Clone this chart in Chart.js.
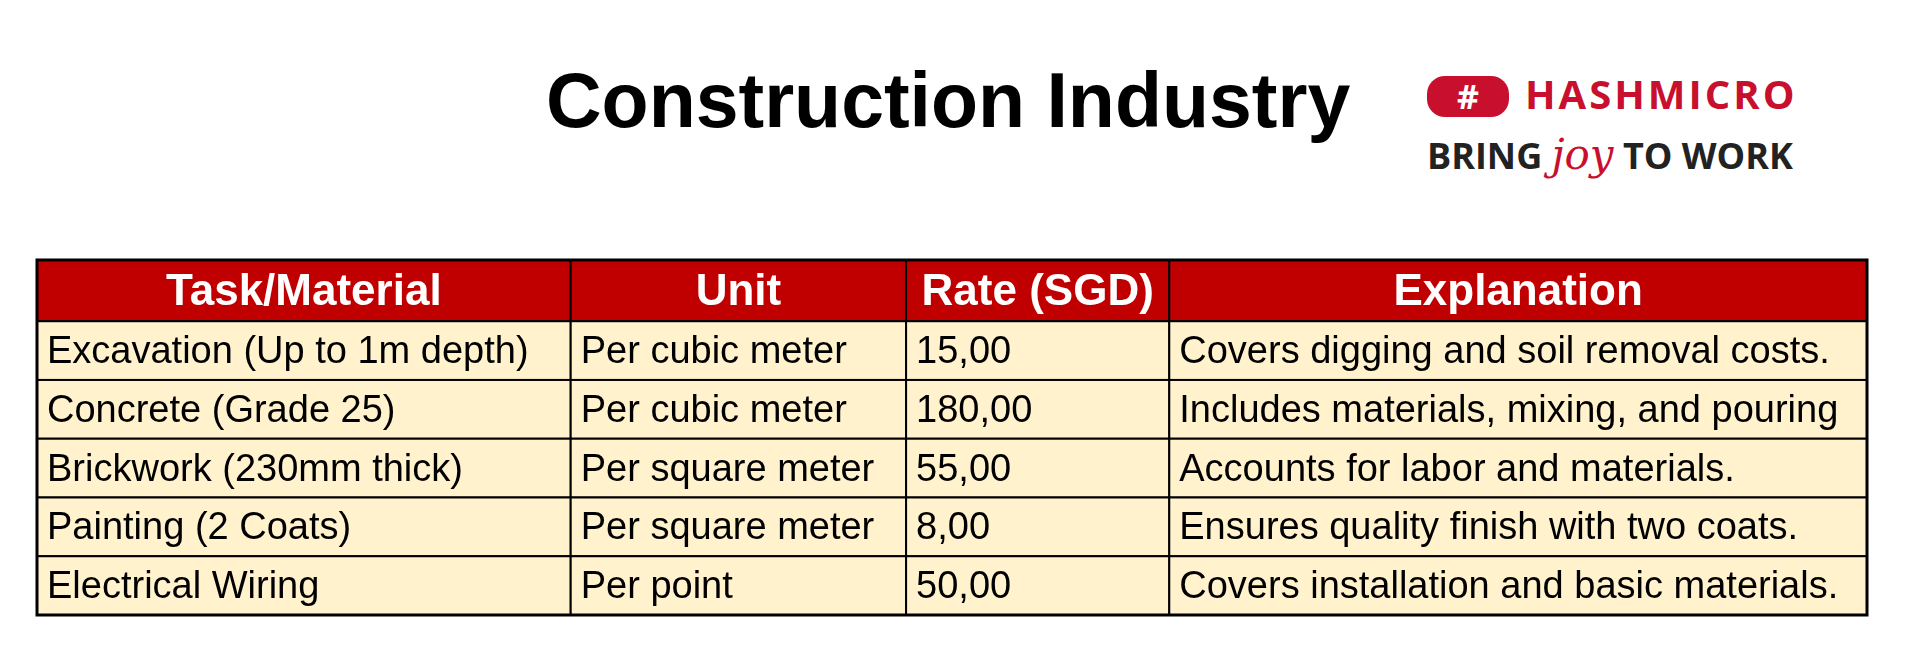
<!DOCTYPE html>
<html><head><meta charset="utf-8">
<script src="https://cdn.jsdelivr.net/npm/chart.js@4"></script>
<style>
body{margin:0;width:1920px;height:648px;background:#fff;position:relative;overflow:hidden;font-family:"Liberation Sans",Arial,sans-serif}
#title{position:absolute;left:546px;top:56px;font-size:77px;font-weight:bold;color:#000;white-space:nowrap;line-height:1.15}
#logo1{position:absolute;left:1427px;top:70px;font-size:40px;font-weight:bold;color:#c8102e;font-family:"Open Sans",sans-serif;letter-spacing:3px;line-height:1.2;white-space:nowrap}
#logo1 span{display:inline-block;background:#c8102e;color:#fff;border-radius:18px;width:82px;text-align:center;font-size:34px;margin-right:16px;letter-spacing:0}
#logo2{position:absolute;left:1427px;top:130px;font-size:36px;font-weight:bold;color:#222;font-family:"Open Sans",sans-serif;white-space:nowrap;line-height:1.2}
#logo2 i{color:#c8102e;font-family:"DejaVu Serif",serif;font-size:42px;font-weight:normal}
canvas{position:absolute;left:0;top:0}
</style></head><body>
<div id="title">Construction Industry</div>
<div id="logo1"><span>#</span>HASHMICRO</div>
<div id="logo2">BRING <i>joy</i> TO WORK</div>
<canvas id="c" width="1920" height="648"></canvas>
<script>
const headers=["Task/Material","Unit","Rate (SGD)","Explanation"];
const tasks=["Excavation (Up to 1m depth)","Concrete (Grade 25)","Brickwork (230mm thick)","Painting (2 Coats)","Electrical Wiring"];
const units=["Per cubic meter","Per cubic meter","Per square meter","Per square meter","Per point"];
const rates=["15,00","180,00","55,00","8,00","50,00"];
const explanations=["Covers digging and soil removal costs.","Includes materials, mixing, and pouring","Accounts for labor and materials.","Ensures quality finish with two coats.","Covers installation and basic materials."];
const colEdges=[0,436,710,925,1495];
const rowEdges=[0,50,98,146,194,242,290];
const tablePlugin={id:'tbl',afterDraw(ch){
  const x=ch.scales.x,y=ch.scales.y,ctx=ch.ctx;
  const cols=[tasks,units,rates,explanations];
  const nRows=tasks.length+1;
  ctx.save();
  for(let r=0;r<nRows;r++){
    const y0=y.getPixelForValue(rowEdges[r]),y1=y.getPixelForValue(rowEdges[r+1]);
    for(let c=0;c<4;c++){
      const x0=x.getPixelForValue(colEdges[c]),x1=x.getPixelForValue(colEdges[c+1]);
      ctx.fillStyle=r===0?'#c00000':'#fff2cc';
      ctx.fillRect(x0,y0,x1-x0,y1-y0);
      ctx.strokeStyle='#000';ctx.lineWidth=2;ctx.strokeRect(x0,y0,x1-x0,y1-y0);
      ctx.textBaseline='middle';
      if(r===0){ctx.fillStyle='#fff';ctx.font='bold 44px "Liberation Sans",Arial';ctx.textAlign='center';ctx.fillText(headers[c],(x0+x1)/2,(y0+y1)/2+2);}
      else{ctx.fillStyle='#000';ctx.font='38px "Liberation Sans",Arial';ctx.textAlign='left';ctx.fillText(cols[c][r-1],x0+10,(y0+y1)/2+2);}
    }
  }
  ctx.lineWidth=3;ctx.strokeRect(x.left,y.top,x.right-x.left,y.bottom-y.top);
  ctx.restore();
}};
new Chart(document.getElementById('c'),{
  type:'scatter',
  data:{datasets:[{data:[]}]},
  options:{responsive:false,animation:false,
    layout:{padding:{left:37,right:53,top:260,bottom:33}},
    plugins:{legend:{display:false},tooltip:{enabled:false}},
    scales:{x:{type:'linear',min:0,max:1495,display:false},
            y:{type:'linear',min:0,max:290,reverse:true,display:false}}},
  plugins:[tablePlugin]
});
</script></body></html>
